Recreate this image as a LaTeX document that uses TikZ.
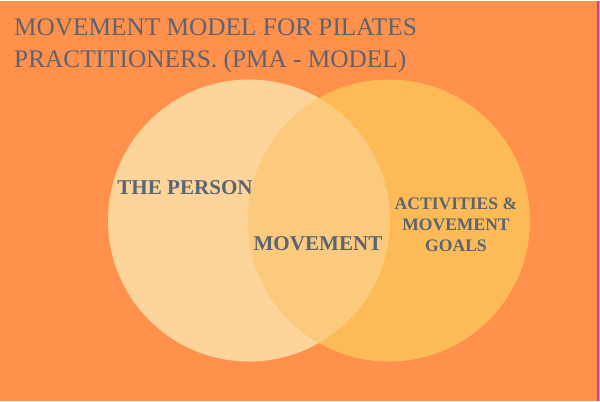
\documentclass[tikz,border=0pt]{standalone}
\usepackage{fontspec}
\setmainfont{Liberation Serif}
\usetikzlibrary{positioning}
\definecolor{bgorange}{HTML}{FF914D}
\definecolor{personfill}{HTML}{FDD59B}
\definecolor{goalfill}{HTML}{FDBB57}
\definecolor{overlapfill}{HTML}{FCCA7D}
\definecolor{textgrey}{HTML}{5A6472}
\tikzset{label text/.style={font=\bfseries\large,text=textgrey,align=center},
  circle area/.style={circle,minimum size=282*0.02cm,inner sep=0pt}}
\begin{document}
\begin{tikzpicture}[x=0.02cm,y=-0.02cm]
    \fill[bgorange] (0,0) rectangle (600,400);
    \draw[violet!70,line width=0.6pt] (598,0) -- (598,400);
    \node[circle area, fill=personfill] (person) at (249,220) {};
    \node[circle area, fill=goalfill] (goals) at (389,220) {};
    \begin{scope}
      \clip (249,220) circle (141);
      \fill[overlapfill] (389,220) circle (141);
    \end{scope}
    \node[anchor=north west, font=\Large, text=textgrey, align=left] (title) at (8,12)
      {MOVEMENT MODEL FOR PILATES\\PRACTITIONERS. (PMA - MODEL)};
    \node[label text] (persontext) at (185,187) {THE PERSON};
    \node[label text] (movetext) at (318,243) {MOVEMENT};
    \node[label text, font=\bfseries\normalsize] (goaltext) at (456,224) {ACTIVITIES \&\\MOVEMENT\\GOALS};
\end{tikzpicture}
\end{document}
